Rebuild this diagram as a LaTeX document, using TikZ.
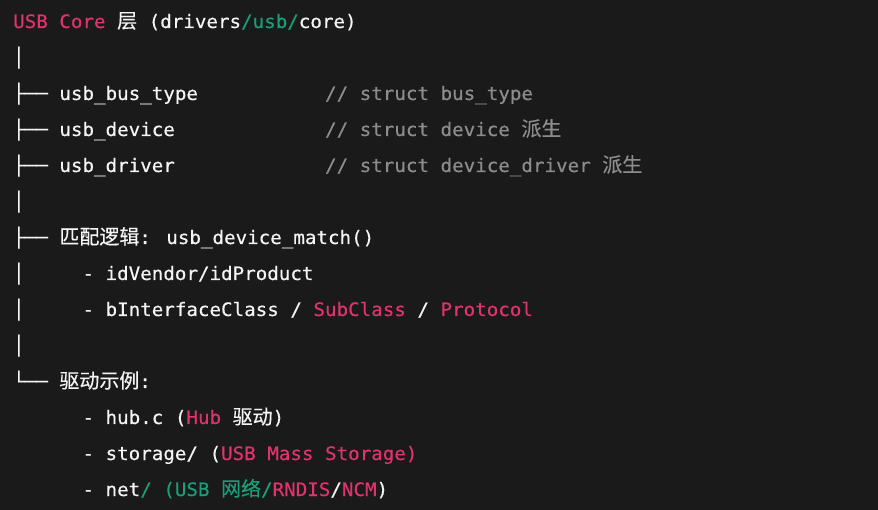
\documentclass[tikz,border=0pt]{standalone}
\usepackage{fontspec}
\newfontfamily\codefont{DejaVu Sans Mono}[FakeStretch=1.037,FakeBold=0.4]
\newfontfamily\zhfont{Noto Sans CJK SC}[FakeBold=0.4]
\definecolor{codebg}{HTML}{1A1A1A}
\definecolor{codewhite}{HTML}{F4F4F4}
\definecolor{codegray}{HTML}{8C8C8C}
\definecolor{codepink}{HTML}{E0336C}
\definecolor{codegreen}{HTML}{1A9E78}
\newcommand{\zh}[1]{{\fontsize{20pt}{20pt}\selectfont\zhfont #1}}
\newcommand{\pk}[1]{\textcolor{codepink}{#1}}
\newcommand{\gn}[1]{\textcolor{codegreen}{#1}}

\begin{document}
\begin{tikzpicture}[x=1pt,y=-1pt]
        \tikzstyle{code}=[anchor=base west,inner sep=0pt,text=codewhite,font=\fontsize{18.5pt}{18.5pt}\selectfont\codefont]
        \tikzstyle{note}=[code,text=codegray]

        \fill[codebg] (0,0) rectangle (878,510);
        \useasboundingbox (0,0) rectangle (878,510);

       \begin{scope}

         \node [code] (title) at (13,28) {\pk{USB Core} \zh{层} (drivers\gn{/usb/}core)};
         \node [code] (bar1) at (13,64) {│};

         \node [code] (bustype) at (13,100) {├── usb\_bus\_type};
         \node [note] (bustypenote) at (324.9,100) {// struct bus\_type};
         \node [code] (device) at (13,136) {├── usb\_device};
         \node [note] (devicenote) at (324.9,136) {// struct device \zh{派生}};
         \node [code] (driver) at (13,172) {├── usb\_driver};
         \node [note] (drivernote) at (324.9,172) {// struct device\_driver \zh{派生}};
         \node [code] (bar2) at (13,208) {│};

         \node [code] (match) at (13,244) {├── \zh{匹配逻辑}: usb\_device\_match()};
         \node [code] (bar3) at (13,280) {│};
         \node [code] (vendor) at (82.3,280) {- idVendor/idProduct};
         \node [code] (bar4) at (13,316) {│};
         \node [code] (iface) at (82.3,316) {- bInterfaceClass / \pk{SubClass} / \pk{Protocol}};
         \node [code] (bar5) at (13,352) {│};

         \node [code] (examples) at (13,388) {└── \zh{驱动示例}:};
         \node [code] (hub) at (82.3,424) {- hub.c (\pk{Hub} \zh{驱动})};
         \node [code] (storage) at (82.3,460) {- storage/ (\pk{USB Mass Storage)}};
         \node [code] (net) at (82.3,496) {- net\gn{/ (USB \zh{网络}/}\pk{RNDIS}/\pk{NCM})};

        \end{scope}
\end{tikzpicture}
\end{document}
